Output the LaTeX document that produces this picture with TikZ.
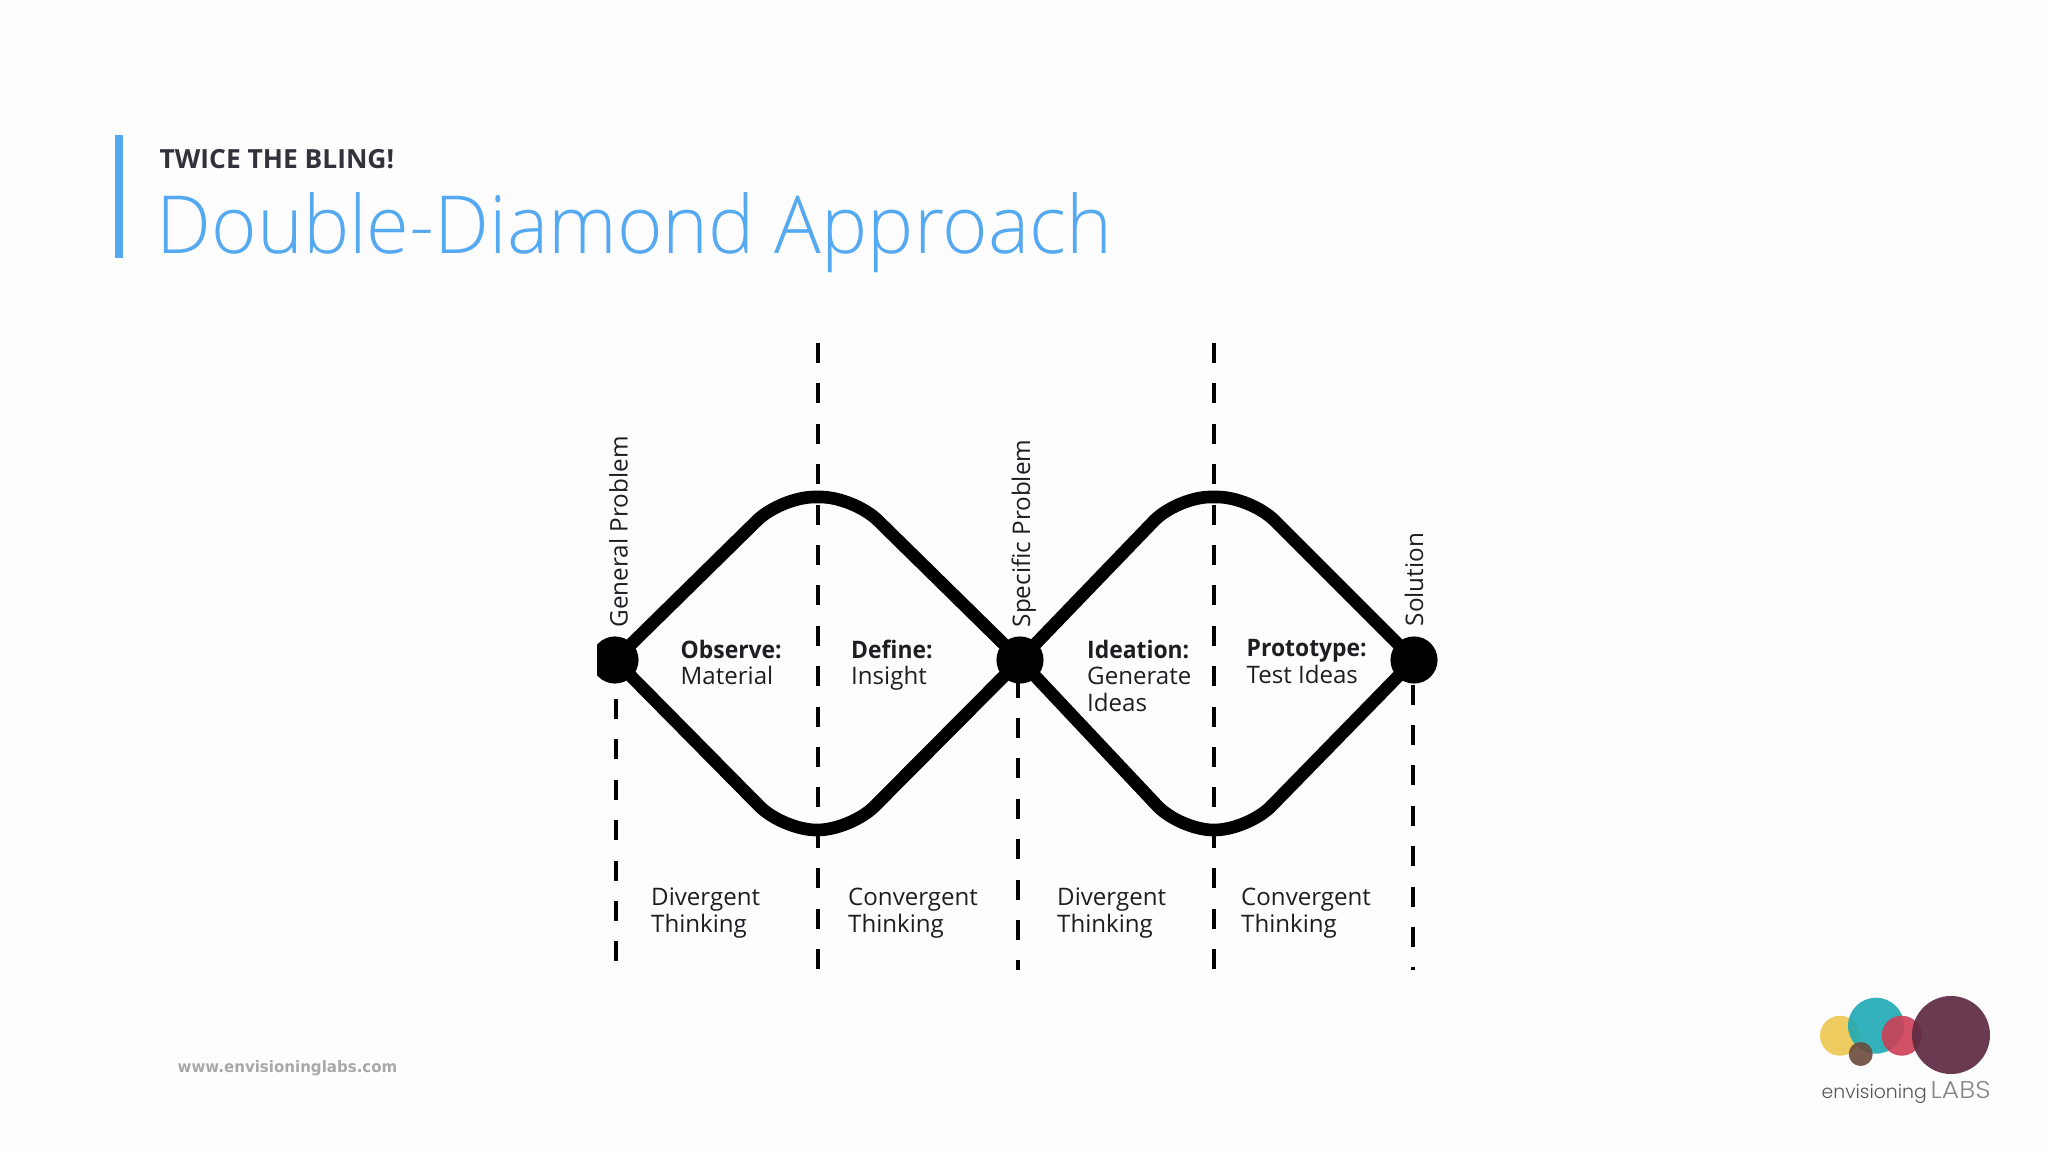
\documentclass[tikz,border=0pt]{standalone}
\usepackage{fontspec}
\setmainfont{Open Sans}
\newfontfamily\semifont[FakeStretch=0.95]{Open Sans}
\newfontfamily\titlefont[FakeStretch=0.97]{Open Sans Light}
\newfontfamily\urlfont[FakeStretch=0.95]{DejaVu Sans}
\newfontfamily\logofont{Poppins Light}
\newfontfamily\labsfont[FakeStretch=1.1]{Poppins Light}
\usetikzlibrary{positioning}
\definecolor{paper}{HTML}{FEFDFE}
\definecolor{ink}{HTML}{1E1E22}
\definecolor{sky}{HTML}{55A9F0}
\definecolor{slate}{HTML}{33323A}
\definecolor{urlgrey}{HTML}{A8A8A8}
\definecolor{sun}{HTML}{EDC74F}
\definecolor{teal}{HTML}{1FAAB5}
\definecolor{rose}{HTML}{CE3F56}
\definecolor{plum}{HTML}{5E2A42}
\definecolor{umber}{HTML}{6B4B3A}
\definecolor{logogrey}{HTML}{55555B}
\tikzset{
  marker/.style={black,line width=1.15pt,dash pattern=on 5.69pt off 5.8pt},
  curve/.style={black,line width=3.6pt,rounded corners=9.5pt},
  stage/.style={circle,fill=black,minimum size=13.4pt,inner sep=0pt},
  steptext/.style={anchor=north west,align=left,inner sep=0pt,text=ink,
    font=\fontsize{6.85pt}{7.55pt}\selectfont},
  sidelabel/.style={anchor=base west,rotate=90,inner sep=0pt,text=ink,
    font=\fontsize{6.9pt}{7.55pt}\selectfont}
}

\begin{document}
\begin{tikzpicture}[x=0.01cm,y=-0.01cm]
  \useasboundingbox (0,0) rectangle (2048,1152);
  \fill[paper] (0,0) rectangle (2048,1152);

  \fill[sky] (115,135) rectangle (123,258);
  \node[anchor=base west,inner sep=0pt,text=slate,font=\fontsize{7.5pt}{9pt}\selectfont\bfseries] (kicker) at (159,169) {TWICE THE BLING!};
  \node[anchor=base west,inner sep=0pt,text=sky,font=\fontsize{22.8pt}{26pt}\titlefont] (title) at (156,254) {Double-Diamond Approach};

  % dashed markers
  \coordinate (a1) at (615.7,699);
  \coordinate (a2) at (615.7,962);
  \coordinate (b1) at (817.7,343);
  \coordinate (b2) at (817.7,970);
  \coordinate (c1) at (1018.3,677.5);
  \coordinate (c2) at (1018.3,970);
  \coordinate (d1) at (1214.3,343);
  \coordinate (d2) at (1214.3,970);
  \coordinate (e1) at (1413,684.6);
  \coordinate (e2) at (1413,970);
  \foreach \p in {a,b,c,d,e}{\draw[marker] (\p1) -- (\p2);}

  % stages, the first one is cut on its left side
  \node[stage] (general) at (615,660) {};
  \node[stage] (specific) at (1020,660) {};
  \node[stage] (solution) at (1414,660) {};

  % the two diamonds
  \draw[curve] (general.center) -- (781,497) -- (854,497) -- (specific.center);
  \draw[curve] (specific.center) -- (1177,497) -- (1251,497) -- (solution.center);
  \draw[curve] (general.center) -- (783,830) -- (851,830) -- (specific.center);
  \draw[curve] (specific.center) -- (1180,830) -- (1248,830) -- (solution.center);
  \fill[paper] (590,630) rectangle (597,690);

  \node[sidelabel] (lgeneral) at (627.7,628) {General Problem};
  \node[sidelabel] (lspecific) at (1030,628) {Specific Problem};
  \node[sidelabel] (lsolution) at (1423,627) {Solution};

  \node[steptext] (observe) at (680,639) {{\semifont\bfseries Observe:}\\Material};
  \node[steptext] (define) at (850.5,639) {{\semifont\bfseries Define:}\\Insight};
  \node[steptext] (ideation) at (1086.5,639) {{\semifont\bfseries Ideation:}\\Generate\\Ideas};
  \node[steptext] (prototype) at (1246,639) {{\semifont\bfseries Prototype:}\\Test Ideas};

  \node[steptext] (div1) at (650.5,887.3) {Divergent\\Thinking};
  \node[steptext] (con1) at (847.5,887.3) {Convergent\\Thinking};
  \node[steptext] (div2) at (1056.5,887.3) {Divergent\\Thinking};
  \node[steptext] (con2) at (1240.5,887.3) {Convergent\\Thinking};

  \node[anchor=base west,inner sep=0pt,text=urlgrey,font=\fontsize{4.5pt}{6pt}\urlfont\bfseries] (url) at (177,1072) {www.envisioninglabs.com};

  % logo
  \fill[sun,opacity=.9] (1840,1035.7) circle (20);
  \fill[teal,opacity=.9] (1876,1025.7) circle (28);
  \fill[rose,opacity=.9] (1901.7,1035.7) circle (20);
  \fill[plum,opacity=.92] (1951,1035) circle (39);
  \fill[umber,opacity=.9] (1860.7,1054) circle (12);
  \node[anchor=base west,inner sep=0pt,text=logogrey,font=\fontsize{5.35pt}{6pt}\logofont] (envisioning) at (1821,1098) {envisioning};
  \node[anchor=base west,inner sep=0pt,text=logogrey!70,font=\fontsize{6.9pt}{7pt}\labsfont] (labs) at (1930,1098) {LABS};
\end{tikzpicture}
\end{document}
